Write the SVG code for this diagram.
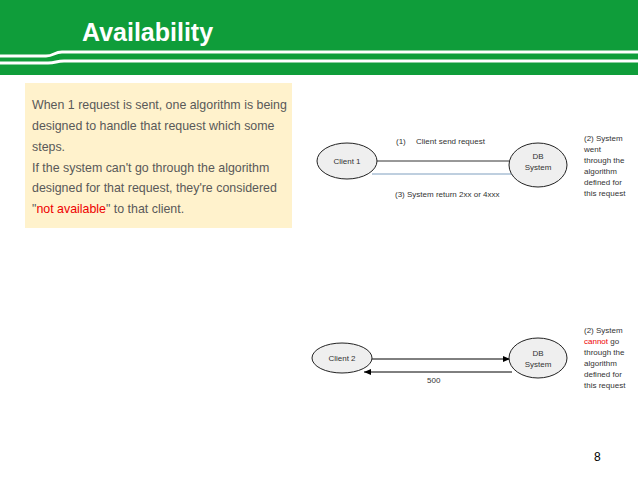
<svg xmlns="http://www.w3.org/2000/svg" width="638" height="478" viewBox="0 0 638 478">
<style>
.t{font-family:"Liberation Sans",Arial,sans-serif}
.b{font-size:12.4px;fill:#595959}
.s{font-size:8px;fill:#333}
.n{font-size:8px;fill:#333}
ellipse{fill:#efefef;stroke:#222;stroke-width:1}
</style>
<defs><marker id="a" markerWidth="8" markerHeight="8" refX="7" refY="4" orient="auto" markerUnits="userSpaceOnUse"><path d="M0,1 L7,4 L0,7z" fill="#000"/></marker></defs>
<rect width="638" height="478" fill="#fff"/>
<rect width="638" height="75" fill="#0f9d3a"/>
<path d="M0,56 H46 C54,56 54,52 62,52 H638" stroke="#fff" stroke-width="3" fill="none"/>
<path d="M0,63 H48 C56,63 56,61 64,61 H638" stroke="#fff" stroke-width="3" fill="none"/>
<text class="t" x="82" y="41" font-size="25" font-weight="bold" fill="#fff">Availability</text>
<rect x="25" y="83" width="267" height="145" fill="#fff2cc"/>
<text class="t b" x="32" y="109">When 1 request is sent, one algorithm is being</text>
<text class="t b" x="32" y="130">designed to handle that request which some</text>
<text class="t b" x="32" y="151">steps.</text>
<text class="t b" x="32" y="172">If the system can't go through the algorithm</text>
<text class="t b" x="32" y="192">designed for that request, they're considered</text>
<text class="t b" x="32" y="213">"<tspan fill="#e00">not available</tspan>" to that client.</text>
<g id="connectors">
<line x1="376" y1="161" x2="511" y2="161" stroke="#333" stroke-width="1"/>
<line x1="372" y1="174" x2="514" y2="174" stroke="#7f9fbf" stroke-width="1"/>
<line x1="372" y1="359" x2="510" y2="359" stroke="#000" stroke-width="1" marker-end="url(#a)"/>
<line x1="512" y1="372" x2="364" y2="372" stroke="#000" stroke-width="1" marker-end="url(#a)"/>
</g>
<g id="client1"><ellipse cx="347" cy="161" rx="30" ry="18"/><text class="t n" x="347" y="164" text-anchor="middle">Client 1</text></g>
<g id="db1"><ellipse cx="538" cy="165" rx="29" ry="22"/><text class="t n" x="538" y="159" text-anchor="middle">DB</text><text class="t n" x="538" y="170" text-anchor="middle">System</text></g>
<g id="client2"><ellipse cx="342" cy="358" rx="30" ry="15"/><text class="t n" x="342" y="361" text-anchor="middle">Client 2</text></g>
<g id="db2"><ellipse cx="538" cy="358" rx="29" ry="20"/><text class="t n" x="538" y="356" text-anchor="middle">DB</text><text class="t n" x="538" y="367" text-anchor="middle">System</text></g>
<text class="t s" x="396" y="144">(1)</text>
<text class="t s" x="416" y="144">Client send request</text>
<text class="t s" x="395" y="197">(3) System return 2xx or 4xxx</text>
<text class="t s" x="427" y="383">500</text>
<g class="t s">
<text x="584" y="141">(2) System</text><text x="584" y="152">went</text><text x="584" y="163">through the</text><text x="584" y="174">algorithm</text><text x="584" y="185">defined for</text><text x="584" y="196">this request</text>
<text x="584" y="333">(2) System</text><text x="584" y="344"><tspan fill="#e00">cannot</tspan> go</text><text x="584" y="355">through the</text><text x="584" y="366">algorithm</text><text x="584" y="377">defined for</text><text x="584" y="388">this request</text>
</g>
<text class="t" x="594" y="461" font-size="12" fill="#000">8</text>
</svg>
